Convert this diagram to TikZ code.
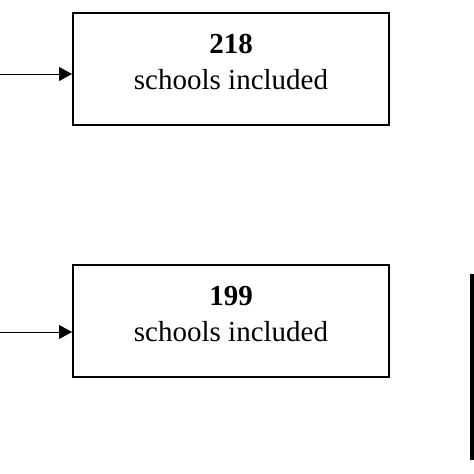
\documentclass[tikz,border=0pt]{standalone}
\usepackage{fontspec}
\setmainfont{Liberation Serif}
\usetikzlibrary{arrows.meta,positioning}
\tikzset{
  schoolbox/.style={draw, line width=2pt, minimum width=316pt, minimum height=112pt, inner sep=0pt},
  boxtext/.style={align=center, font=\fontsize{29}{36}\selectfont, inner sep=0pt},
  flowarrow/.style={line width=0.8pt, -{Triangle[length=13pt,width=14pt]}}
}
\begin{document}
\begin{tikzpicture}[x=1pt,y=-1pt]
      \useasboundingbox (0,0) rectangle (474,474);
      \node[schoolbox] (box1) at (231,69) {};
      \node[schoolbox] (box2) at (231,321) {};
      \node[boxtext] (txt1) at ([yshift=7pt]box1.center) {\textbf{218}\\schools included};
      \node[boxtext] (txt2) at ([yshift=7pt]box2.center) {\textbf{199}\\schools included};
      \coordinate (src1) at (0,74);
      \coordinate (src2) at (0,332);
      \begin{scope}[flowarrow]
        \draw (src1) to (src1 -| box1.west);
        \draw (src2) to (src2 -| box2.west);
      \end{scope}
      \fill (470,274) rectangle (474,460);
    \end{tikzpicture}
\end{document}
